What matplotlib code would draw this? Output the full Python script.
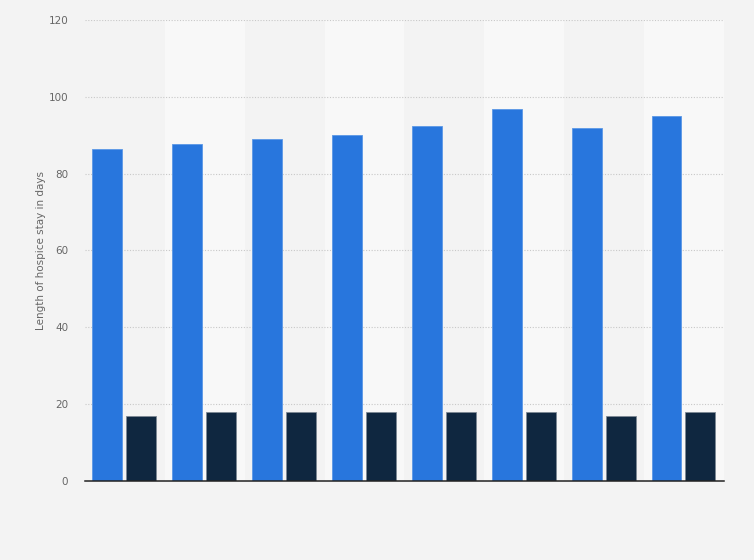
import numpy as np
import matplotlib
matplotlib.use("Agg")
import matplotlib.pyplot as plt

# Werte
gruppen = ["1", "2", "3", "4", "5", "6", "7", "8"]
mittelwert = [86.3, 87.7, 89.0, 90.1, 92.4, 96.8, 91.8, 95.0]
median = [17, 18, 18, 18, 18, 18, 17, 18]

bg = "#f3f3f3"
band_hell = "#f8f8f8"
blau = "#2876dd"
dunkel = "#0f2740"

fig = plt.figure(figsize=(7.54, 5.6), dpi=100)
fig.patch.set_facecolor(bg)
ax = fig.add_axes([0.1127, 0.1411, 0.8475, 0.8232])
ax.set_facecolor(bg)

x = np.arange(len(gruppen))
breite = 0.375

# abwechselnde Hintergrundstreifen
for i in x:
    if i % 2 == 1:
        ax.axvspan(i - 0.5, i + 0.5, color=band_hell, zorder=0, lw=0)

ax.bar(x - 0.22, mittelwert, breite, color=blau, edgecolor="#5b98e6",
       linewidth=0.6, zorder=3)
ax.bar(x + 0.205, median, breite, color=dunkel, edgecolor="#7d8894",
       linewidth=0.6, zorder=3)

ax.set_xlim(-0.5, len(gruppen) - 0.5)
ax.set_ylim(0, 120)
ax.set_yticks(range(0, 121, 20))
ax.set_xticks([])
ax.yaxis.grid(True, linestyle=(0, (1, 1.5)), color="#c8c8c8", linewidth=0.8, zorder=1)
ax.tick_params(axis="y", length=0, pad=12, labelsize=7.5, labelcolor="#666666")

for s in ["top", "right", "left"]:
    ax.spines[s].set_visible(False)
ax.spines["bottom"].set_color("#222222")
ax.spines["bottom"].set_linewidth(1.1)
ax.spines["bottom"].set_zorder(4)

ax.set_ylabel("Length of hospice stay in days", fontsize=7.5, color="#666666",
              labelpad=2)

plt.savefig("out.png", dpi=100, facecolor=bg)
